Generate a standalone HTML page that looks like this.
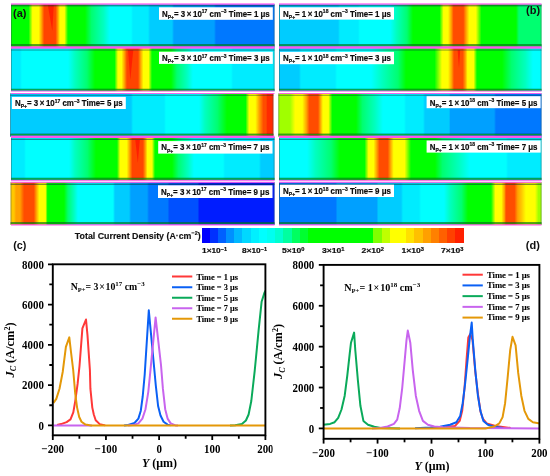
<!DOCTYPE html>
<html><head><meta charset="utf-8"><title>Figure</title>
<style>html,body{margin:0;padding:0;background:#fff}svg{display:block}</style></head>
<body>
<svg width="550" height="476" viewBox="0 0 550 476">
<defs>
<linearGradient id="ga1" x1="0" y1="0" x2="1" y2="0"><stop offset="0.0000" stop-color="#00ff00"/><stop offset="0.0664" stop-color="#00ff00"/><stop offset="0.0820" stop-color="#ffff00"/><stop offset="0.1051" stop-color="#ffff00"/><stop offset="0.1165" stop-color="#ffa000"/><stop offset="0.1260" stop-color="#ff4400"/><stop offset="0.1685" stop-color="#ff4400"/><stop offset="0.1780" stop-color="#ffa000"/><stop offset="0.1860" stop-color="#ffff00"/><stop offset="0.2027" stop-color="#ffff00"/><stop offset="0.2163" stop-color="#00ff00"/><stop offset="0.2808" stop-color="#00ff00"/><stop offset="0.3055" stop-color="#00ff70"/><stop offset="0.3510" stop-color="#00ffc0"/><stop offset="0.3757" stop-color="#00ffff"/><stop offset="0.4554" stop-color="#00ffff"/><stop offset="0.4630" stop-color="#00ecff"/><stop offset="0.5199" stop-color="#00ecff"/><stop offset="0.5275" stop-color="#00ccff"/><stop offset="0.6110" stop-color="#00ccff"/><stop offset="0.6186" stop-color="#00a0ff"/><stop offset="0.7704" stop-color="#00a0ff"/><stop offset="0.7780" stop-color="#0078ff"/><stop offset="1.0000" stop-color="#0078ff"/></linearGradient>
<linearGradient id="ga2" x1="0" y1="0" x2="1" y2="0"><stop offset="0.0000" stop-color="#00ecff"/><stop offset="0.0342" stop-color="#00ecff"/><stop offset="0.0417" stop-color="#00ffff"/><stop offset="0.2163" stop-color="#00ffff"/><stop offset="0.2429" stop-color="#00ffc0"/><stop offset="0.2884" stop-color="#00ff70"/><stop offset="0.3188" stop-color="#00ff00"/><stop offset="0.3928" stop-color="#00ff00"/><stop offset="0.4061" stop-color="#ffff00"/><stop offset="0.4194" stop-color="#ffff00"/><stop offset="0.4307" stop-color="#ffa000"/><stop offset="0.4402" stop-color="#ff4400"/><stop offset="0.4820" stop-color="#ff4400"/><stop offset="0.4915" stop-color="#ffa000"/><stop offset="0.5028" stop-color="#ffff00"/><stop offset="0.5218" stop-color="#ffff00"/><stop offset="0.5351" stop-color="#00ff00"/><stop offset="0.6072" stop-color="#00ff00"/><stop offset="0.6300" stop-color="#00ff70"/><stop offset="0.6679" stop-color="#00ffc0"/><stop offset="0.6907" stop-color="#00ffff"/><stop offset="0.8349" stop-color="#00ffff"/><stop offset="0.8425" stop-color="#00ecff"/><stop offset="1.0000" stop-color="#00ecff"/></linearGradient>
<linearGradient id="ga3" x1="0" y1="0" x2="1" y2="0"><stop offset="0.0000" stop-color="#00ccff"/><stop offset="0.4590" stop-color="#00ccff"/><stop offset="0.4666" stop-color="#00ecff"/><stop offset="0.5843" stop-color="#00ecff"/><stop offset="0.5919" stop-color="#00ffff"/><stop offset="0.7173" stop-color="#00ffff"/><stop offset="0.7401" stop-color="#00ffc0"/><stop offset="0.7876" stop-color="#00ff70"/><stop offset="0.8237" stop-color="#00ff00"/><stop offset="0.8940" stop-color="#00ff00"/><stop offset="0.9081" stop-color="#ffff00"/><stop offset="0.9312" stop-color="#ffff00"/><stop offset="0.9464" stop-color="#ffa000"/><stop offset="0.9620" stop-color="#ff4c00"/><stop offset="0.9719" stop-color="#ff4c00"/><stop offset="0.9776" stop-color="#ff2a00"/><stop offset="1.0000" stop-color="#ff2a00"/></linearGradient>
<linearGradient id="ga4" x1="0" y1="0" x2="1" y2="0"><stop offset="0.0000" stop-color="#00ecff"/><stop offset="0.0493" stop-color="#00ecff"/><stop offset="0.0569" stop-color="#00ffff"/><stop offset="0.2201" stop-color="#00ffff"/><stop offset="0.2429" stop-color="#00ffc0"/><stop offset="0.2903" stop-color="#00ff70"/><stop offset="0.3226" stop-color="#00ff00"/><stop offset="0.4023" stop-color="#00ff00"/><stop offset="0.4144" stop-color="#ffff00"/><stop offset="0.4391" stop-color="#ffff00"/><stop offset="0.4505" stop-color="#ffa000"/><stop offset="0.4603" stop-color="#ff4400"/><stop offset="0.5006" stop-color="#ff4400"/><stop offset="0.5101" stop-color="#ffa000"/><stop offset="0.5180" stop-color="#ffff00"/><stop offset="0.5351" stop-color="#ffff00"/><stop offset="0.5465" stop-color="#00ff00"/><stop offset="0.6110" stop-color="#00ff00"/><stop offset="0.6357" stop-color="#00ff70"/><stop offset="0.6717" stop-color="#00ffc0"/><stop offset="0.6945" stop-color="#00ffff"/><stop offset="0.8046" stop-color="#00ffff"/><stop offset="0.8121" stop-color="#00ecff"/><stop offset="0.9412" stop-color="#00ecff"/><stop offset="0.9488" stop-color="#00ccff"/><stop offset="1.0000" stop-color="#00ccff"/></linearGradient>
<linearGradient id="ga5" x1="0" y1="0" x2="1" y2="0"><stop offset="0.0000" stop-color="#ffc800"/><stop offset="0.0129" stop-color="#ffc800"/><stop offset="0.0205" stop-color="#ffa000"/><stop offset="0.0356" stop-color="#ffa000"/><stop offset="0.0515" stop-color="#ff4c00"/><stop offset="0.0879" stop-color="#ff4c00"/><stop offset="0.0974" stop-color="#ffa000"/><stop offset="0.1088" stop-color="#ffff00"/><stop offset="0.1319" stop-color="#ffff00"/><stop offset="0.1402" stop-color="#00ff00"/><stop offset="0.2023" stop-color="#00ff00"/><stop offset="0.2175" stop-color="#00ff70"/><stop offset="0.2402" stop-color="#00ffc0"/><stop offset="0.2554" stop-color="#00ffff"/><stop offset="0.3880" stop-color="#00ffff"/><stop offset="0.3956" stop-color="#00ccff"/><stop offset="0.4487" stop-color="#00ccff"/><stop offset="0.4562" stop-color="#00a0ff"/><stop offset="0.5169" stop-color="#00a0ff"/><stop offset="0.5244" stop-color="#0078ff"/><stop offset="0.5945" stop-color="#0078ff"/><stop offset="0.6021" stop-color="#0050ff"/><stop offset="0.7082" stop-color="#0050ff"/><stop offset="0.7158" stop-color="#001cff"/><stop offset="1.0000" stop-color="#001cff"/></linearGradient>
<linearGradient id="gb1" x1="0" y1="0" x2="1" y2="0"><stop offset="0.0000" stop-color="#00ccff"/><stop offset="0.2248" stop-color="#00ccff"/><stop offset="0.2324" stop-color="#00ecff"/><stop offset="0.3010" stop-color="#00ecff"/><stop offset="0.3086" stop-color="#00ffff"/><stop offset="0.4229" stop-color="#00ffff"/><stop offset="0.4476" stop-color="#00ffc0"/><stop offset="0.4876" stop-color="#00ff70"/><stop offset="0.5105" stop-color="#00ff00"/><stop offset="0.6114" stop-color="#00ff00"/><stop offset="0.6270" stop-color="#ffff00"/><stop offset="0.6438" stop-color="#ffff00"/><stop offset="0.6564" stop-color="#ffa000"/><stop offset="0.6651" stop-color="#ff4c00"/><stop offset="0.7021" stop-color="#ff4c00"/><stop offset="0.7124" stop-color="#ffa000"/><stop offset="0.7250" stop-color="#ffff00"/><stop offset="0.7497" stop-color="#ffff00"/><stop offset="0.7714" stop-color="#00ff00"/><stop offset="0.9029" stop-color="#00ff00"/><stop offset="0.9143" stop-color="#00ff70"/><stop offset="1.0000" stop-color="#00ff70"/></linearGradient>
<linearGradient id="gb2" x1="0" y1="0" x2="1" y2="0"><stop offset="0.0000" stop-color="#00ccff"/><stop offset="0.0762" stop-color="#00ccff"/><stop offset="0.0838" stop-color="#00ecff"/><stop offset="0.2133" stop-color="#00ecff"/><stop offset="0.2210" stop-color="#00ffff"/><stop offset="0.3505" stop-color="#00ffff"/><stop offset="0.3924" stop-color="#00ffc0"/><stop offset="0.4533" stop-color="#00ff70"/><stop offset="0.4838" stop-color="#00ff00"/><stop offset="0.5924" stop-color="#00ff00"/><stop offset="0.6210" stop-color="#ffff00"/><stop offset="0.6438" stop-color="#ffff00"/><stop offset="0.6583" stop-color="#ffa000"/><stop offset="0.6667" stop-color="#ff4c00"/><stop offset="0.6998" stop-color="#ff4c00"/><stop offset="0.7101" stop-color="#ffa000"/><stop offset="0.7185" stop-color="#ffff00"/><stop offset="0.7413" stop-color="#ffff00"/><stop offset="0.7543" stop-color="#00ff00"/><stop offset="0.8495" stop-color="#00ff00"/><stop offset="0.8857" stop-color="#00ff70"/><stop offset="0.9390" stop-color="#00ffc0"/><stop offset="0.9676" stop-color="#00ffff"/><stop offset="1.0000" stop-color="#00ffff"/></linearGradient>
<linearGradient id="gb3" x1="0" y1="0" x2="1" y2="0"><stop offset="0.0000" stop-color="#a0ff00"/><stop offset="0.0441" stop-color="#a0ff00"/><stop offset="0.0639" stop-color="#ffff00"/><stop offset="0.0908" stop-color="#ffff00"/><stop offset="0.1072" stop-color="#ffa000"/><stop offset="0.1178" stop-color="#ff4c00"/><stop offset="0.1505" stop-color="#ff4c00"/><stop offset="0.1593" stop-color="#ffa000"/><stop offset="0.1695" stop-color="#ffff00"/><stop offset="0.1900" stop-color="#ffff00"/><stop offset="0.2049" stop-color="#00ff00"/><stop offset="0.2949" stop-color="#00ff00"/><stop offset="0.3197" stop-color="#00ff70"/><stop offset="0.3672" stop-color="#00ffc0"/><stop offset="0.3976" stop-color="#00ffff"/><stop offset="0.4774" stop-color="#00ffff"/><stop offset="0.4850" stop-color="#00ecff"/><stop offset="0.5496" stop-color="#00ecff"/><stop offset="0.5572" stop-color="#00ccff"/><stop offset="0.6484" stop-color="#00ccff"/><stop offset="0.6541" stop-color="#00a0ff"/><stop offset="0.8195" stop-color="#00a0ff"/><stop offset="0.8271" stop-color="#0078ff"/><stop offset="1.0000" stop-color="#0078ff"/></linearGradient>
<linearGradient id="gb4" x1="0" y1="0" x2="1" y2="0"><stop offset="0.0000" stop-color="#00ffff"/><stop offset="0.1067" stop-color="#00ffff"/><stop offset="0.1390" stop-color="#00ffc0"/><stop offset="0.1981" stop-color="#00ff70"/><stop offset="0.2324" stop-color="#00ff00"/><stop offset="0.3257" stop-color="#00ff00"/><stop offset="0.3413" stop-color="#ffff00"/><stop offset="0.3600" stop-color="#ffff00"/><stop offset="0.3726" stop-color="#ffa000"/><stop offset="0.3829" stop-color="#ff4c00"/><stop offset="0.4141" stop-color="#ff4c00"/><stop offset="0.4244" stop-color="#ffa000"/><stop offset="0.4370" stop-color="#ffff00"/><stop offset="0.4781" stop-color="#ffff00"/><stop offset="0.4876" stop-color="#a0ff00"/><stop offset="0.5029" stop-color="#00ff00"/><stop offset="0.5943" stop-color="#00ff00"/><stop offset="0.6229" stop-color="#00ff70"/><stop offset="0.6857" stop-color="#00ffc0"/><stop offset="0.7276" stop-color="#00ffff"/><stop offset="0.8648" stop-color="#00ffff"/><stop offset="0.8724" stop-color="#00ecff"/><stop offset="1.0000" stop-color="#00ecff"/></linearGradient>
<linearGradient id="gb5" x1="0" y1="0" x2="1" y2="0"><stop offset="0.0000" stop-color="#0078ff"/><stop offset="0.2152" stop-color="#0078ff"/><stop offset="0.2229" stop-color="#00a0ff"/><stop offset="0.3714" stop-color="#00a0ff"/><stop offset="0.3790" stop-color="#00ccff"/><stop offset="0.4648" stop-color="#00ccff"/><stop offset="0.4724" stop-color="#00ecff"/><stop offset="0.5333" stop-color="#00ecff"/><stop offset="0.5410" stop-color="#00ffff"/><stop offset="0.6286" stop-color="#00ffff"/><stop offset="0.6514" stop-color="#00ffc0"/><stop offset="0.6952" stop-color="#00ff70"/><stop offset="0.7200" stop-color="#00ff00"/><stop offset="0.8076" stop-color="#00ff00"/><stop offset="0.8244" stop-color="#ffff00"/><stop offset="0.8472" stop-color="#ffff00"/><stop offset="0.8590" stop-color="#ffa000"/><stop offset="0.8648" stop-color="#ff4c00"/><stop offset="0.8968" stop-color="#ff4c00"/><stop offset="0.9093" stop-color="#ffa000"/><stop offset="0.9238" stop-color="#ffc800"/><stop offset="0.9410" stop-color="#ffff00"/><stop offset="0.9752" stop-color="#ffff00"/><stop offset="0.9886" stop-color="#a0ff00"/><stop offset="1.0000" stop-color="#a0ff00"/></linearGradient>
<clipPath id="c52"><rect x="52.8" y="264.3" width="212.6" height="171"/></clipPath>
<clipPath id="k52"><rect x="0" y="255" width="272.6" height="221"/></clipPath>
<clipPath id="c323"><rect x="323.6" y="264.9" width="215.8" height="173.9"/></clipPath>
</defs>
<rect width="550" height="476" fill="#fff"/>
<rect x="11" y="4.2" width="263.5" height="43.3" fill="url(#ga1)"/>
<polygon points="47.8,5 53.8,5 52.3,31" fill="#ff1c00" opacity="0.9"/>
<rect x="11" y="4.8" width="263.5" height="1.6" fill="#003038" opacity="0.5"/>
<rect x="11" y="44" width="263.5" height="2.5" fill="#003828" opacity="0.5"/>
<rect x="11" y="44.6" width="263.5" height="1.1" fill="#00c000" opacity="0.62"/>
<rect x="11" y="4.2" width="0.8" height="43.3" fill="#305050" opacity="0.5"/>
<rect x="273.7" y="4.2" width="0.8" height="43.3" fill="#305050" opacity="0.5"/>
<rect x="11" y="47.5" width="263.5" height="43.6" fill="url(#ga2)"/>
<polygon points="128,50 133.3,50 130.3,80" fill="#ff1c00" opacity="0.9"/>
<rect x="11" y="49.6" width="263.5" height="0.9" fill="#003038" opacity="0.5"/>
<rect x="11" y="88.7" width="263.5" height="2" fill="#003828" opacity="0.5"/>
<rect x="11" y="89.3" width="263.5" height="1.1" fill="#00c000" opacity="0.62"/>
<rect x="11" y="47.5" width="0.8" height="43.6" fill="#305050" opacity="0.5"/>
<rect x="273.7" y="47.5" width="0.8" height="43.6" fill="#305050" opacity="0.5"/>
<rect x="10.2" y="93.4" width="263.2" height="43.4" fill="url(#ga3)"/>
<rect x="10.2" y="94.8" width="263.2" height="0.9" fill="#003038" opacity="0.5"/>
<rect x="10.2" y="133.5" width="263.2" height="2.3" fill="#003828" opacity="0.5"/>
<rect x="10.2" y="134.1" width="263.2" height="1.1" fill="#00c000" opacity="0.62"/>
<rect x="10.2" y="93.4" width="0.8" height="43.4" fill="#305050" opacity="0.5"/>
<rect x="272.6" y="93.4" width="0.8" height="43.4" fill="#305050" opacity="0.5"/>
<rect x="11" y="136.8" width="263.5" height="43.5" fill="url(#ga4)"/>
<polygon points="135.3,140 139.8,140 137.8,163" fill="#ff1c00" opacity="0.9"/>
<rect x="11" y="138.7" width="263.5" height="1.3" fill="#003038" opacity="0.5"/>
<rect x="11" y="177.7" width="263.5" height="2.3" fill="#003828" opacity="0.5"/>
<rect x="11" y="178.3" width="263.5" height="1.1" fill="#00c000" opacity="0.62"/>
<rect x="11" y="136.8" width="0.8" height="43.5" fill="#305050" opacity="0.5"/>
<rect x="273.7" y="136.8" width="0.8" height="43.5" fill="#305050" opacity="0.5"/>
<rect x="10.6" y="182.2" width="263.9" height="42.7" fill="url(#ga5)"/>
<rect x="10.6" y="183.6" width="263.9" height="1.4" fill="#003038" opacity="0.5"/>
<rect x="10.6" y="222" width="263.9" height="2.3" fill="#003828" opacity="0.5"/>
<rect x="10.6" y="222.6" width="263.9" height="1.1" fill="#00c000" opacity="0.62"/>
<rect x="10.6" y="182.2" width="0.8" height="42.7" fill="#305050" opacity="0.5"/>
<rect x="273.7" y="182.2" width="0.8" height="42.7" fill="#305050" opacity="0.5"/>
<rect x="279" y="4.2" width="262.5" height="43.3" fill="url(#gb1)"/>
<rect x="279" y="4.8" width="262.5" height="1.6" fill="#003038" opacity="0.5"/>
<rect x="279" y="44" width="262.5" height="2.5" fill="#003828" opacity="0.5"/>
<rect x="279" y="44.6" width="262.5" height="1.1" fill="#00c000" opacity="0.62"/>
<rect x="279" y="4.2" width="0.8" height="43.3" fill="#305050" opacity="0.5"/>
<rect x="540.7" y="4.2" width="0.8" height="43.3" fill="#305050" opacity="0.5"/>
<rect x="279" y="47.5" width="262.5" height="43.6" fill="url(#gb2)"/>
<polygon points="457.6,50 460.2,50 459,68" fill="#ff1c00" opacity="0.9"/>
<rect x="279" y="49.6" width="262.5" height="0.9" fill="#003038" opacity="0.5"/>
<rect x="279" y="88.7" width="262.5" height="2" fill="#003828" opacity="0.5"/>
<rect x="279" y="89.3" width="262.5" height="1.1" fill="#00c000" opacity="0.62"/>
<rect x="279" y="47.5" width="0.8" height="43.6" fill="#305050" opacity="0.5"/>
<rect x="540.7" y="47.5" width="0.8" height="43.6" fill="#305050" opacity="0.5"/>
<rect x="278.4" y="93.4" width="263.1" height="43.4" fill="url(#gb3)"/>
<rect x="278.4" y="94.8" width="263.1" height="0.9" fill="#003038" opacity="0.5"/>
<rect x="278.4" y="133.5" width="263.1" height="2.3" fill="#003828" opacity="0.5"/>
<rect x="278.4" y="134.1" width="263.1" height="1.1" fill="#00c000" opacity="0.62"/>
<rect x="278.4" y="93.4" width="0.8" height="43.4" fill="#305050" opacity="0.5"/>
<rect x="540.7" y="93.4" width="0.8" height="43.4" fill="#305050" opacity="0.5"/>
<rect x="279" y="136.8" width="262.5" height="43.5" fill="url(#gb4)"/>
<rect x="279" y="138.7" width="262.5" height="1.3" fill="#003038" opacity="0.5"/>
<rect x="279" y="177.7" width="262.5" height="2.3" fill="#003828" opacity="0.5"/>
<rect x="279" y="178.3" width="262.5" height="1.1" fill="#00c000" opacity="0.62"/>
<rect x="279" y="136.8" width="0.8" height="43.5" fill="#305050" opacity="0.5"/>
<rect x="540.7" y="136.8" width="0.8" height="43.5" fill="#305050" opacity="0.5"/>
<rect x="279" y="182.2" width="262.5" height="42.7" fill="url(#gb5)"/>
<rect x="279" y="183.6" width="262.5" height="1.4" fill="#003038" opacity="0.5"/>
<rect x="279" y="222" width="262.5" height="2.3" fill="#003828" opacity="0.5"/>
<rect x="279" y="222.6" width="262.5" height="1.1" fill="#00c000" opacity="0.62"/>
<rect x="279" y="182.2" width="0.8" height="42.7" fill="#305050" opacity="0.5"/>
<rect x="540.7" y="182.2" width="0.8" height="42.7" fill="#305050" opacity="0.5"/>
<rect x="11" y="3.4" width="263.5" height="1.3" fill="#ff55ee" opacity="1"/>
<rect x="11" y="46.3" width="263.5" height="2.4" fill="#ff55ee" opacity="1"/>
<rect x="11" y="90.6" width="263.5" height="1" fill="#ff55ee" opacity="0.9"/>
<rect x="11" y="93" width="263.5" height="0.9" fill="#ff55ee" opacity="1"/>
<rect x="11" y="135.7" width="263.5" height="2.3" fill="#ff55ee" opacity="1"/>
<rect x="11" y="179.9" width="263.5" height="0.9" fill="#ff55ee" opacity="0.95"/>
<rect x="11" y="181.7" width="263.5" height="1.1" fill="#ff55ee" opacity="1"/>
<rect x="11" y="224.3" width="263.5" height="1.2" fill="#ff55ee" opacity="1"/>
<rect x="279" y="3.4" width="262.5" height="1.3" fill="#ff55ee" opacity="1"/>
<rect x="279" y="46.3" width="262.5" height="2.4" fill="#ff55ee" opacity="1"/>
<rect x="279" y="90.6" width="262.5" height="1" fill="#ff55ee" opacity="0.9"/>
<rect x="279" y="93" width="262.5" height="0.9" fill="#ff55ee" opacity="1"/>
<rect x="279" y="135.7" width="262.5" height="2.3" fill="#ff55ee" opacity="1"/>
<rect x="279" y="179.9" width="262.5" height="0.9" fill="#ff55ee" opacity="0.95"/>
<rect x="279" y="181.7" width="262.5" height="1.1" fill="#ff55ee" opacity="1"/>
<rect x="279" y="224.3" width="262.5" height="1.2" fill="#ff55ee" opacity="1"/>
<rect x="159" y="7.3" width="113.8" height="12.5" fill="#fff"/><text x="162.1" y="16.6" font-family="Liberation Sans, sans-serif" font-weight="bold" font-size="8.9" fill="#0c0c0c" stroke="#0c0c0c" stroke-width="0.2" textLength="107.6" lengthAdjust="spacingAndGlyphs">N<tspan font-size="5.6" dy="2.2">P+</tspan><tspan dy="-2.2">= 3 × 10</tspan><tspan font-size="5.6" dy="-3.4">17</tspan><tspan dy="3.4"> cm</tspan><tspan font-size="5.6" dy="-3.4">−3</tspan><tspan dy="3.4"> Time= 1 μs</tspan></text>
<rect x="159" y="51.7" width="113.8" height="12.2" fill="#fff"/><text x="162.1" y="61" font-family="Liberation Sans, sans-serif" font-weight="bold" font-size="8.9" fill="#0c0c0c" stroke="#0c0c0c" stroke-width="0.2" textLength="107.6" lengthAdjust="spacingAndGlyphs">N<tspan font-size="5.6" dy="2.2">P+</tspan><tspan dy="-2.2">= 3 × 10</tspan><tspan font-size="5.6" dy="-3.4">17</tspan><tspan dy="3.4"> cm</tspan><tspan font-size="5.6" dy="-3.4">−3</tspan><tspan dy="3.4"> Time= 3 μs</tspan></text>
<rect x="11.9" y="96.9" width="113.9" height="12.1" fill="#fff"/><text x="15" y="106.2" font-family="Liberation Sans, sans-serif" font-weight="bold" font-size="8.9" fill="#0c0c0c" stroke="#0c0c0c" stroke-width="0.2" textLength="107.7" lengthAdjust="spacingAndGlyphs">N<tspan font-size="5.6" dy="2.2">P+</tspan><tspan dy="-2.2">= 3 × 10</tspan><tspan font-size="5.6" dy="-3.4">17</tspan><tspan dy="3.4"> cm</tspan><tspan font-size="5.6" dy="-3.4">−3</tspan><tspan dy="3.4"> Time= 5 μs</tspan></text>
<rect x="158.2" y="141.1" width="114.3" height="12.5" fill="#fff"/><text x="161.3" y="150.4" font-family="Liberation Sans, sans-serif" font-weight="bold" font-size="8.9" fill="#0c0c0c" stroke="#0c0c0c" stroke-width="0.2" textLength="108.1" lengthAdjust="spacingAndGlyphs">N<tspan font-size="5.6" dy="2.2">P+</tspan><tspan dy="-2.2">= 3 × 10</tspan><tspan font-size="5.6" dy="-3.4">17</tspan><tspan dy="3.4"> cm</tspan><tspan font-size="5.6" dy="-3.4">−3</tspan><tspan dy="3.4"> Time= 7 μs</tspan></text>
<rect x="158" y="185.3" width="114.5" height="12.7" fill="#fff"/><text x="161.1" y="194.6" font-family="Liberation Sans, sans-serif" font-weight="bold" font-size="8.9" fill="#0c0c0c" stroke="#0c0c0c" stroke-width="0.2" textLength="108.3" lengthAdjust="spacingAndGlyphs">N<tspan font-size="5.6" dy="2.2">P+</tspan><tspan dy="-2.2">= 3 × 10</tspan><tspan font-size="5.6" dy="-3.4">17</tspan><tspan dy="3.4"> cm</tspan><tspan font-size="5.6" dy="-3.4">−3</tspan><tspan dy="3.4"> Time= 9 μs</tspan></text>
<rect x="280" y="7.3" width="114" height="12.3" fill="#fff"/><text x="283.1" y="16.6" font-family="Liberation Sans, sans-serif" font-weight="bold" font-size="8.9" fill="#0c0c0c" stroke="#0c0c0c" stroke-width="0.2" textLength="107.8" lengthAdjust="spacingAndGlyphs">N<tspan font-size="5.6" dy="2.2">P+</tspan><tspan dy="-2.2">= 1 × 10</tspan><tspan font-size="5.6" dy="-3.4">18</tspan><tspan dy="3.4"> cm</tspan><tspan font-size="5.6" dy="-3.4">−3</tspan><tspan dy="3.4"> Time= 1 μs</tspan></text>
<rect x="280" y="51.8" width="114" height="12.4" fill="#fff"/><text x="283.1" y="61.1" font-family="Liberation Sans, sans-serif" font-weight="bold" font-size="8.9" fill="#0c0c0c" stroke="#0c0c0c" stroke-width="0.2" textLength="107.8" lengthAdjust="spacingAndGlyphs">N<tspan font-size="5.6" dy="2.2">P+</tspan><tspan dy="-2.2">= 1 × 10</tspan><tspan font-size="5.6" dy="-3.4">18</tspan><tspan dy="3.4"> cm</tspan><tspan font-size="5.6" dy="-3.4">−3</tspan><tspan dy="3.4"> Time= 3 μs</tspan></text>
<rect x="426.6" y="96.2" width="114" height="12" fill="#fff"/><text x="429.7" y="105.5" font-family="Liberation Sans, sans-serif" font-weight="bold" font-size="8.9" fill="#0c0c0c" stroke="#0c0c0c" stroke-width="0.2" textLength="107.8" lengthAdjust="spacingAndGlyphs">N<tspan font-size="5.6" dy="2.2">P+</tspan><tspan dy="-2.2">= 1 × 10</tspan><tspan font-size="5.6" dy="-3.4">18</tspan><tspan dy="3.4"> cm</tspan><tspan font-size="5.6" dy="-3.4">−3</tspan><tspan dy="3.4"> Time= 5 μs</tspan></text>
<rect x="426.6" y="140.5" width="114" height="12.1" fill="#fff"/><text x="429.7" y="149.8" font-family="Liberation Sans, sans-serif" font-weight="bold" font-size="8.9" fill="#0c0c0c" stroke="#0c0c0c" stroke-width="0.2" textLength="107.8" lengthAdjust="spacingAndGlyphs">N<tspan font-size="5.6" dy="2.2">P+</tspan><tspan dy="-2.2">= 1 × 10</tspan><tspan font-size="5.6" dy="-3.4">18</tspan><tspan dy="3.4"> cm</tspan><tspan font-size="5.6" dy="-3.4">−3</tspan><tspan dy="3.4"> Time= 7 μs</tspan></text>
<rect x="280" y="184.7" width="114" height="12.3" fill="#fff"/><text x="283.1" y="194" font-family="Liberation Sans, sans-serif" font-weight="bold" font-size="8.9" fill="#0c0c0c" stroke="#0c0c0c" stroke-width="0.2" textLength="107.8" lengthAdjust="spacingAndGlyphs">N<tspan font-size="5.6" dy="2.2">P+</tspan><tspan dy="-2.2">= 1 × 10</tspan><tspan font-size="5.6" dy="-3.4">18</tspan><tspan dy="3.4"> cm</tspan><tspan font-size="5.6" dy="-3.4">−3</tspan><tspan dy="3.4"> Time= 9 μs</tspan></text>
<text x="13.1" y="17.2" font-family="Liberation Sans, sans-serif" font-weight="bold" font-size="11" fill="#111">(a)</text>
<text x="526" y="14.2" font-family="Liberation Sans, sans-serif" font-weight="bold" font-size="11" fill="#111">(b)</text>
<text x="13.2" y="248.6" font-family="Liberation Sans, sans-serif" font-weight="bold" font-size="10.8" fill="#111">(c)</text>
<text x="525.8" y="248.6" font-family="Liberation Sans, sans-serif" font-weight="bold" font-size="11" fill="#111">(d)</text>
<rect x="201.50" y="228" width="8.69" height="15.2" fill="#0000ff" shape-rendering="crispEdges"/>
<rect x="209.69" y="228" width="8.69" height="15.2" fill="#0030ff" shape-rendering="crispEdges"/>
<rect x="217.88" y="228" width="8.69" height="15.2" fill="#0060ff" shape-rendering="crispEdges"/>
<rect x="226.06" y="228" width="8.69" height="15.2" fill="#0090ff" shape-rendering="crispEdges"/>
<rect x="234.25" y="228" width="8.69" height="15.2" fill="#00b8ff" shape-rendering="crispEdges"/>
<rect x="242.44" y="228" width="8.69" height="15.2" fill="#00d8ff" shape-rendering="crispEdges"/>
<rect x="250.62" y="228" width="8.69" height="15.2" fill="#00f0ff" shape-rendering="crispEdges"/>
<rect x="258.81" y="228" width="8.69" height="15.2" fill="#00ffff" shape-rendering="crispEdges"/>
<rect x="267.00" y="228" width="8.69" height="15.2" fill="#00fff0" shape-rendering="crispEdges"/>
<rect x="275.19" y="228" width="8.69" height="15.2" fill="#00ffd0" shape-rendering="crispEdges"/>
<rect x="283.38" y="228" width="8.69" height="15.2" fill="#00ffa0" shape-rendering="crispEdges"/>
<rect x="291.56" y="228" width="8.69" height="15.2" fill="#00ff60" shape-rendering="crispEdges"/>
<rect x="299.75" y="228" width="8.69" height="15.2" fill="#00ff30" shape-rendering="crispEdges"/>
<rect x="307.94" y="228" width="8.69" height="15.2" fill="#00ff00" shape-rendering="crispEdges"/>
<rect x="316.12" y="228" width="8.69" height="15.2" fill="#00ff00" shape-rendering="crispEdges"/>
<rect x="324.31" y="228" width="8.69" height="15.2" fill="#00ff00" shape-rendering="crispEdges"/>
<rect x="332.50" y="228" width="8.69" height="15.2" fill="#00ff00" shape-rendering="crispEdges"/>
<rect x="340.69" y="228" width="8.69" height="15.2" fill="#00ff00" shape-rendering="crispEdges"/>
<rect x="348.88" y="228" width="8.69" height="15.2" fill="#00ff00" shape-rendering="crispEdges"/>
<rect x="357.06" y="228" width="8.69" height="15.2" fill="#00ff00" shape-rendering="crispEdges"/>
<rect x="365.25" y="228" width="8.69" height="15.2" fill="#00ff00" shape-rendering="crispEdges"/>
<rect x="373.44" y="228" width="8.69" height="15.2" fill="#80ff00" shape-rendering="crispEdges"/>
<rect x="381.62" y="228" width="8.69" height="15.2" fill="#c0ff00" shape-rendering="crispEdges"/>
<rect x="389.81" y="228" width="8.69" height="15.2" fill="#ffff00" shape-rendering="crispEdges"/>
<rect x="398.00" y="228" width="8.69" height="15.2" fill="#ffff00" shape-rendering="crispEdges"/>
<rect x="406.19" y="228" width="8.69" height="15.2" fill="#ffe000" shape-rendering="crispEdges"/>
<rect x="414.38" y="228" width="8.69" height="15.2" fill="#ffc000" shape-rendering="crispEdges"/>
<rect x="422.56" y="228" width="8.69" height="15.2" fill="#ffa000" shape-rendering="crispEdges"/>
<rect x="430.75" y="228" width="8.69" height="15.2" fill="#ff8000" shape-rendering="crispEdges"/>
<rect x="438.94" y="228" width="8.69" height="15.2" fill="#ff6000" shape-rendering="crispEdges"/>
<rect x="447.12" y="228" width="8.69" height="15.2" fill="#ff4000" shape-rendering="crispEdges"/>
<rect x="455.31" y="228" width="8.19" height="15.2" fill="#ff2000" shape-rendering="crispEdges"/>
<text x="74.8" y="238.8" font-family="Liberation Sans, sans-serif" font-weight="bold" font-size="9.8" fill="#111" stroke="#111" stroke-width="0.15" textLength="125.8" lengthAdjust="spacingAndGlyphs">Total Current Density (A·cm<tspan font-size="6" dy="-3.4">−2</tspan><tspan dy="3.4">)</tspan></text>
<text x="202" y="253.4" font-family="Liberation Sans, sans-serif" font-weight="bold" font-size="7.6" fill="#111" stroke="#111" stroke-width="0.2" textLength="25" lengthAdjust="spacingAndGlyphs">1×10<tspan font-size="5" dy="-2.8">−1</tspan></text>
<text x="242" y="253.4" font-family="Liberation Sans, sans-serif" font-weight="bold" font-size="7.6" fill="#111" stroke="#111" stroke-width="0.2" textLength="25" lengthAdjust="spacingAndGlyphs">8×10<tspan font-size="5" dy="-2.8">−1</tspan></text>
<text x="282" y="253.4" font-family="Liberation Sans, sans-serif" font-weight="bold" font-size="7.6" fill="#111" stroke="#111" stroke-width="0.2" textLength="22.5" lengthAdjust="spacingAndGlyphs">5×10<tspan font-size="5" dy="-2.8">0</tspan></text>
<text x="322" y="253.4" font-family="Liberation Sans, sans-serif" font-weight="bold" font-size="7.6" fill="#111" stroke="#111" stroke-width="0.2" textLength="22.5" lengthAdjust="spacingAndGlyphs">3×10<tspan font-size="5" dy="-2.8">1</tspan></text>
<text x="361.5" y="253.4" font-family="Liberation Sans, sans-serif" font-weight="bold" font-size="7.6" fill="#111" stroke="#111" stroke-width="0.2" textLength="22.5" lengthAdjust="spacingAndGlyphs">2×10<tspan font-size="5" dy="-2.8">2</tspan></text>
<text x="401.5" y="253.4" font-family="Liberation Sans, sans-serif" font-weight="bold" font-size="7.6" fill="#111" stroke="#111" stroke-width="0.2" textLength="22.5" lengthAdjust="spacingAndGlyphs">1×10<tspan font-size="5" dy="-2.8">3</tspan></text>
<text x="441" y="253.4" font-family="Liberation Sans, sans-serif" font-weight="bold" font-size="7.6" fill="#111" stroke="#111" stroke-width="0.2" textLength="22.5" lengthAdjust="spacingAndGlyphs">7×10<tspan font-size="5" dy="-2.8">3</tspan></text>
<g clip-path="url(#k52)"><g clip-path="url(#c52)" fill="none" stroke-width="2" stroke-linejoin="round"><polyline stroke="#ff3838" points="57,424.9 61,424.1 66.6,422.1 70.5,419.4 73.3,412.3 75.2,401.3 77.6,383.9 79.5,366 82.4,328.4 86,319.5 87.5,335.4 89.9,370 90.4,388.7 92.3,407.6 93.8,414.5 95.7,420.2 99.7,424.1 105.2,425.4"/><polyline stroke="#0a60f5" points="124,425.4 128.2,424.9 134.5,423 138.4,418.6 140.8,410.7 142.7,396.5 144.7,374.5 148.8,310.3 153.9,365 155.8,385.5 158.1,406 160.5,415.5 163.6,421.8 167.6,424.6 170.7,425.4"/><polyline stroke="#0aaa5a" points="230,425.4 235.2,425.2 241.9,423.9 245.9,420.5 248.6,414.5 251.3,401 254.7,370.8 257,347.2 258.6,330.4 261.6,301.8 264.5,292.6 266,290"/><polyline stroke="#c864ee" points="53.5,425.4 92,425.4"/><polyline stroke="#c864ee" points="128,425.4 132.9,425.1 138.4,423.4 142.4,418.6 145.5,409.2 148.3,391.8 150.2,372.9 155.6,317.4 161,365 162.9,388.7 165.2,409.2 167.6,418.6 170.7,423.4 175.5,425.4 178,425.4"/><polyline stroke="#e49808" points="53.5,402.9 56.3,398.9 59.5,388.7 62.7,372 65.9,346.9 69.3,337.4 71,352 73.2,370 75.2,393.4 77.1,407.6 79.2,417 81.5,421.8 85.5,424.6 91,425.4 266,425.4"/></g><rect x="52.8" y="264.3" width="212.6" height="171" fill="none" stroke="#000" stroke-width="1.9"/><line x1="52.8" y1="425.4" x2="48" y2="425.4" stroke="#000" stroke-width="1.8"/><text x="43.9" y="429.6" font-family="Liberation Serif, serif" font-weight="bold" font-size="12.2" text-anchor="end" fill="#000" textLength="5.45" lengthAdjust="spacingAndGlyphs">0</text><line x1="52.8" y1="405.262" x2="49.3" y2="405.262" stroke="#000" stroke-width="1.8"/><line x1="52.8" y1="385.125" x2="48" y2="385.125" stroke="#000" stroke-width="1.8"/><text x="43.9" y="389.325" font-family="Liberation Serif, serif" font-weight="bold" font-size="12.2" text-anchor="end" fill="#000" textLength="21.8" lengthAdjust="spacingAndGlyphs">2000</text><line x1="52.8" y1="364.988" x2="49.3" y2="364.988" stroke="#000" stroke-width="1.8"/><line x1="52.8" y1="344.85" x2="48" y2="344.85" stroke="#000" stroke-width="1.8"/><text x="43.9" y="349.05" font-family="Liberation Serif, serif" font-weight="bold" font-size="12.2" text-anchor="end" fill="#000" textLength="21.8" lengthAdjust="spacingAndGlyphs">4000</text><line x1="52.8" y1="324.712" x2="49.3" y2="324.712" stroke="#000" stroke-width="1.8"/><line x1="52.8" y1="304.575" x2="48" y2="304.575" stroke="#000" stroke-width="1.8"/><text x="43.9" y="308.775" font-family="Liberation Serif, serif" font-weight="bold" font-size="12.2" text-anchor="end" fill="#000" textLength="21.8" lengthAdjust="spacingAndGlyphs">6000</text><line x1="52.8" y1="284.438" x2="49.3" y2="284.438" stroke="#000" stroke-width="1.8"/><line x1="52.8" y1="264.3" x2="48" y2="264.3" stroke="#000" stroke-width="1.8"/><text x="43.9" y="268.5" font-family="Liberation Serif, serif" font-weight="bold" font-size="12.2" text-anchor="end" fill="#000" textLength="21.8" lengthAdjust="spacingAndGlyphs">8000</text><line x1="52.8" y1="435.3" x2="52.8" y2="440.1" stroke="#000" stroke-width="1.8"/><text x="52.8" y="453.2" font-family="Liberation Serif, serif" font-weight="bold" font-size="12.2" text-anchor="middle" fill="#000" textLength="22.55" lengthAdjust="spacingAndGlyphs">−200</text><line x1="79.375" y1="435.3" x2="79.375" y2="438.8" stroke="#000" stroke-width="1.8"/><line x1="105.95" y1="435.3" x2="105.95" y2="440.1" stroke="#000" stroke-width="1.8"/><text x="105.95" y="453.2" font-family="Liberation Serif, serif" font-weight="bold" font-size="12.2" text-anchor="middle" fill="#000" textLength="22.55" lengthAdjust="spacingAndGlyphs">−100</text><line x1="132.525" y1="435.3" x2="132.525" y2="438.8" stroke="#000" stroke-width="1.8"/><line x1="159.1" y1="435.3" x2="159.1" y2="440.1" stroke="#000" stroke-width="1.8"/><text x="159.1" y="453.2" font-family="Liberation Serif, serif" font-weight="bold" font-size="12.2" text-anchor="middle" fill="#000" textLength="5.45" lengthAdjust="spacingAndGlyphs">0</text><line x1="185.675" y1="435.3" x2="185.675" y2="438.8" stroke="#000" stroke-width="1.8"/><line x1="212.25" y1="435.3" x2="212.25" y2="440.1" stroke="#000" stroke-width="1.8"/><text x="212.25" y="453.2" font-family="Liberation Serif, serif" font-weight="bold" font-size="12.2" text-anchor="middle" fill="#000" textLength="16.35" lengthAdjust="spacingAndGlyphs">100</text><line x1="238.825" y1="435.3" x2="238.825" y2="438.8" stroke="#000" stroke-width="1.8"/><line x1="265.4" y1="435.3" x2="265.4" y2="440.1" stroke="#000" stroke-width="1.8"/><text x="265.4" y="453.2" font-family="Liberation Serif, serif" font-weight="bold" font-size="12.2" text-anchor="middle" fill="#000" textLength="16.35" lengthAdjust="spacingAndGlyphs">200</text><text x="159.5" y="466.6" font-family="Liberation Serif, serif" font-weight="bold" font-size="12" text-anchor="middle" fill="#000"><tspan font-style="italic">Y</tspan> (μm)</text><text transform="translate(13.6,350) rotate(-90)" font-family="Liberation Serif, serif" font-weight="bold" font-size="12.4" text-anchor="middle" fill="#000"><tspan font-style="italic">J</tspan><tspan font-style="italic" font-size="8" dy="2.2">C</tspan><tspan dy="-2.2"> (A/cm</tspan><tspan font-size="8" dy="-4">2</tspan><tspan dy="4">)</tspan></text><text x="70.7" y="290" font-family="Liberation Serif, serif" font-weight="bold" font-size="9.6" fill="#000" textLength="74" lengthAdjust="spacingAndGlyphs">N<tspan font-size="6.4" dy="2.2">P+</tspan><tspan dy="-2.2">= 3 × 10</tspan><tspan font-size="6.8" dy="-3.6">17</tspan><tspan dy="3.6"> cm</tspan><tspan font-size="6.8" dy="-3.6">−3</tspan></text><line x1="172" y1="276.6" x2="192.3" y2="276.6" stroke="#ff3838" stroke-width="2"/><text x="196.4" y="279.5" font-family="Liberation Serif, serif" font-weight="bold" font-size="8.5" fill="#000" stroke="#000" stroke-width="0.1" textLength="41.5" lengthAdjust="spacingAndGlyphs">Time = 1 μs</text><line x1="172" y1="287.15" x2="192.3" y2="287.15" stroke="#0a60f5" stroke-width="2"/><text x="196.4" y="290.05" font-family="Liberation Serif, serif" font-weight="bold" font-size="8.5" fill="#000" stroke="#000" stroke-width="0.1" textLength="41.5" lengthAdjust="spacingAndGlyphs">Time = 3 μs</text><line x1="172" y1="297.7" x2="192.3" y2="297.7" stroke="#0aaa5a" stroke-width="2"/><text x="196.4" y="300.6" font-family="Liberation Serif, serif" font-weight="bold" font-size="8.5" fill="#000" stroke="#000" stroke-width="0.1" textLength="41.5" lengthAdjust="spacingAndGlyphs">Time = 5 μs</text><line x1="172" y1="308.25" x2="192.3" y2="308.25" stroke="#c864ee" stroke-width="2"/><text x="196.4" y="311.15" font-family="Liberation Serif, serif" font-weight="bold" font-size="8.5" fill="#000" stroke="#000" stroke-width="0.1" textLength="41.5" lengthAdjust="spacingAndGlyphs">Time = 7 μs</text><line x1="172" y1="318.8" x2="192.3" y2="318.8" stroke="#e49808" stroke-width="2"/><text x="196.4" y="321.7" font-family="Liberation Serif, serif" font-weight="bold" font-size="8.5" fill="#000" stroke="#000" stroke-width="0.1" textLength="41.5" lengthAdjust="spacingAndGlyphs">Time = 9 μs</text></g>
<g clip-path="url(#c323)" fill="none" stroke-width="2" stroke-linejoin="round"><polyline stroke="#ff3838" points="430,428 446,427 455.1,425.9 459.7,420.9 462.2,410.8 464.5,388.1 466.5,360.3 468.3,337.6 470.3,334 472.5,340 475.3,372 478.2,396 480.6,412 483,419 486.7,423.4 495.5,425.9 510.7,428"/><polyline stroke="#0a60f5" points="415,428.2 430.5,427.5 440,426.7 450.1,424.7 456.4,422.2 460.2,415.9 462.7,403.2 465.2,383 467.8,357.8 469.8,337.6 471.7,322.6 472.8,340.1 475.3,370.4 477.9,395.7 480.4,410.8 483.4,420.9 487.9,424.7 494.3,426.7 503.1,428"/><polyline stroke="#0aaa5a" points="323,424.7 330.1,423.9 334.6,422.2 338.2,417.9 341.5,409.5 344.7,395.7 347.3,375.5 349.8,352.8 351,342.7 354.1,332.6 355.3,350.2 357.9,380.5 360.4,405.8 363.4,420.9 368,424.7 374.3,426.7 380.6,428 400,428.4"/><polyline stroke="#c864ee" points="372,428.4 380,428 387.6,426.5 393.9,423.9 397.2,419.6 399.7,408.3 402.2,388.1 404.7,360.3 406.5,340.1 407.8,330.6 410.3,342.7 412.8,370.4 415.8,395.7 419.1,410.8 422.9,420.9 427.9,424.7 434.3,426.5 443.1,427.2 470,428 540,428.4"/><polyline stroke="#e49808" points="323,428.4 485.4,428.4 494.3,426.5 499.3,423.4 502.6,417.1 505.1,403.2 507.6,378 510.2,350.2 512.5,336.8 515.6,345.4 518.2,372.9 521.3,395.7 524.5,410.8 528.3,418.9 532.9,422.2 540,423.6"/></g><rect x="323.6" y="264.9" width="215.8" height="173.9" fill="none" stroke="#000" stroke-width="1.9"/><line x1="323.6" y1="428.4" x2="318.8" y2="428.4" stroke="#000" stroke-width="1.8"/><text x="314.3" y="432.6" font-family="Liberation Serif, serif" font-weight="bold" font-size="12.2" text-anchor="end" fill="#000" textLength="5.45" lengthAdjust="spacingAndGlyphs">0</text><line x1="323.6" y1="407.962" x2="320.1" y2="407.962" stroke="#000" stroke-width="1.8"/><line x1="323.6" y1="387.525" x2="318.8" y2="387.525" stroke="#000" stroke-width="1.8"/><text x="314.3" y="391.725" font-family="Liberation Serif, serif" font-weight="bold" font-size="12.2" text-anchor="end" fill="#000" textLength="21.8" lengthAdjust="spacingAndGlyphs">2000</text><line x1="323.6" y1="367.087" x2="320.1" y2="367.087" stroke="#000" stroke-width="1.8"/><line x1="323.6" y1="346.65" x2="318.8" y2="346.65" stroke="#000" stroke-width="1.8"/><text x="314.3" y="350.85" font-family="Liberation Serif, serif" font-weight="bold" font-size="12.2" text-anchor="end" fill="#000" textLength="21.8" lengthAdjust="spacingAndGlyphs">4000</text><line x1="323.6" y1="326.212" x2="320.1" y2="326.212" stroke="#000" stroke-width="1.8"/><line x1="323.6" y1="305.775" x2="318.8" y2="305.775" stroke="#000" stroke-width="1.8"/><text x="314.3" y="309.975" font-family="Liberation Serif, serif" font-weight="bold" font-size="12.2" text-anchor="end" fill="#000" textLength="21.8" lengthAdjust="spacingAndGlyphs">6000</text><line x1="323.6" y1="285.337" x2="320.1" y2="285.337" stroke="#000" stroke-width="1.8"/><line x1="323.6" y1="264.9" x2="318.8" y2="264.9" stroke="#000" stroke-width="1.8"/><text x="314.3" y="269.1" font-family="Liberation Serif, serif" font-weight="bold" font-size="12.2" text-anchor="end" fill="#000" textLength="21.8" lengthAdjust="spacingAndGlyphs">8000</text><line x1="323.6" y1="438.8" x2="323.6" y2="443.6" stroke="#000" stroke-width="1.8"/><text x="323.6" y="456.6" font-family="Liberation Serif, serif" font-weight="bold" font-size="12.2" text-anchor="middle" fill="#000" textLength="22.55" lengthAdjust="spacingAndGlyphs">−200</text><line x1="350.575" y1="438.8" x2="350.575" y2="442.3" stroke="#000" stroke-width="1.8"/><line x1="377.55" y1="438.8" x2="377.55" y2="443.6" stroke="#000" stroke-width="1.8"/><text x="377.55" y="456.6" font-family="Liberation Serif, serif" font-weight="bold" font-size="12.2" text-anchor="middle" fill="#000" textLength="22.55" lengthAdjust="spacingAndGlyphs">−100</text><line x1="404.525" y1="438.8" x2="404.525" y2="442.3" stroke="#000" stroke-width="1.8"/><line x1="431.5" y1="438.8" x2="431.5" y2="443.6" stroke="#000" stroke-width="1.8"/><text x="431.5" y="456.6" font-family="Liberation Serif, serif" font-weight="bold" font-size="12.2" text-anchor="middle" fill="#000" textLength="5.45" lengthAdjust="spacingAndGlyphs">0</text><line x1="458.475" y1="438.8" x2="458.475" y2="442.3" stroke="#000" stroke-width="1.8"/><line x1="485.45" y1="438.8" x2="485.45" y2="443.6" stroke="#000" stroke-width="1.8"/><text x="485.45" y="456.6" font-family="Liberation Serif, serif" font-weight="bold" font-size="12.2" text-anchor="middle" fill="#000" textLength="16.35" lengthAdjust="spacingAndGlyphs">100</text><line x1="512.425" y1="438.8" x2="512.425" y2="442.3" stroke="#000" stroke-width="1.8"/><line x1="539.4" y1="438.8" x2="539.4" y2="443.6" stroke="#000" stroke-width="1.8"/><text x="539.4" y="456.6" font-family="Liberation Serif, serif" font-weight="bold" font-size="12.2" text-anchor="middle" fill="#000" textLength="16.35" lengthAdjust="spacingAndGlyphs">200</text><text x="432" y="470" font-family="Liberation Serif, serif" font-weight="bold" font-size="12" text-anchor="middle" fill="#000"><tspan font-style="italic">Y</tspan> (μm)</text><text transform="translate(282.4,351.5) rotate(-90)" font-family="Liberation Serif, serif" font-weight="bold" font-size="12.4" text-anchor="middle" fill="#000"><tspan font-style="italic">J</tspan><tspan font-style="italic" font-size="8" dy="2.2">C</tspan><tspan dy="-2.2"> (A/cm</tspan><tspan font-size="8" dy="-4">2</tspan><tspan dy="4">)</tspan></text><text x="344.3" y="290.8" font-family="Liberation Serif, serif" font-weight="bold" font-size="9.8" fill="#000" textLength="76" lengthAdjust="spacingAndGlyphs">N<tspan font-size="6.4" dy="2.2">P+</tspan><tspan dy="-2.2">= 1 × 10</tspan><tspan font-size="6.8" dy="-3.6">18</tspan><tspan dy="3.6"> cm</tspan><tspan font-size="6.8" dy="-3.6">−3</tspan></text><line x1="462.5" y1="274.7" x2="482.8" y2="274.7" stroke="#ff3838" stroke-width="2"/><text x="486.9" y="277.6" font-family="Liberation Serif, serif" font-weight="bold" font-size="8.7" fill="#000" stroke="#000" stroke-width="0.1" textLength="43" lengthAdjust="spacingAndGlyphs">Time = 1 μs</text><line x1="462.5" y1="285.42" x2="482.8" y2="285.42" stroke="#0a60f5" stroke-width="2"/><text x="486.9" y="288.32" font-family="Liberation Serif, serif" font-weight="bold" font-size="8.7" fill="#000" stroke="#000" stroke-width="0.1" textLength="43" lengthAdjust="spacingAndGlyphs">Time = 3 μs</text><line x1="462.5" y1="296.14" x2="482.8" y2="296.14" stroke="#0aaa5a" stroke-width="2"/><text x="486.9" y="299.04" font-family="Liberation Serif, serif" font-weight="bold" font-size="8.7" fill="#000" stroke="#000" stroke-width="0.1" textLength="43" lengthAdjust="spacingAndGlyphs">Time = 5 μs</text><line x1="462.5" y1="306.86" x2="482.8" y2="306.86" stroke="#c864ee" stroke-width="2"/><text x="486.9" y="309.76" font-family="Liberation Serif, serif" font-weight="bold" font-size="8.7" fill="#000" stroke="#000" stroke-width="0.1" textLength="43" lengthAdjust="spacingAndGlyphs">Time = 7 μs</text><line x1="462.5" y1="317.58" x2="482.8" y2="317.58" stroke="#e49808" stroke-width="2"/><text x="486.9" y="320.48" font-family="Liberation Serif, serif" font-weight="bold" font-size="8.7" fill="#000" stroke="#000" stroke-width="0.1" textLength="43" lengthAdjust="spacingAndGlyphs">Time = 9 μs</text>
</svg>
</body></html>
